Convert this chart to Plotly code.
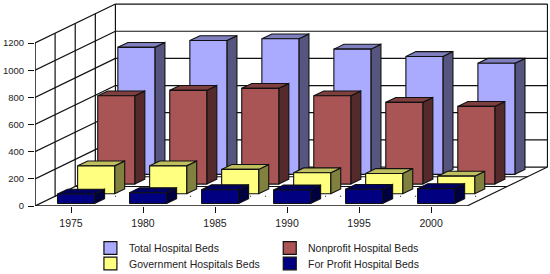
import plotly.graph_objects as go

# values
years = ['1975', '1980', '1985', '1990', '1995', '2000']
total_beds = [935, 985, 998, 922, 868, 818]
nonprofit_beds = [650, 690, 705, 650, 602, 572]
government_beds = [206, 206, 180, 155, 150, 130]
forprofit_beds = [70, 80, 102, 100, 105, 110]
y_ticks = [0, 200, 400, 600, 800, 1000, 1200]

# back row first, so the front rows paint over it
# name, values, row (0 = front), front / top / side colours
series = [
    ('Total Hospital Beds', total_beds, 3, '#AAAAFF', '#7F7FBF', '#55557F'),
    ('Nonprofit Hospital Beds', nonprofit_beds, 2, '#AA5555', '#7F3F3F', '#552A2A'),
    ('Government Hospitals Beds', government_beds, 1, '#FFFF80', '#BFBF60', '#80803F'),
    ('For Profit Hospital Beds', forprofit_beds, 0, '#000080', '#000060', '#000040'),
]

# oblique projection: how far the full floor depth shifts things, in axis units
DEPTH_X = 1.117
DEPTH_Y = 287
ROWS = 4
HALF_BAR = 0.257
LINE = '#111111'


def project(i, value, depth):
    return i + DEPTH_X * depth, value + DEPTH_Y * depth


def poly(points):
    xs, ys = [], []
    for i, v, d in points:
        x, y = project(i, v, d)
        xs.append(x)
        ys.append(y)
    xs.append(xs[0])
    ys.append(ys[0])
    return xs + [None], ys + [None]


def add_lines(fig, segments, width=1.2, dash='solid'):
    xs, ys = [], []
    for a, b in segments:
        x0, y0 = project(*a)
        x1, y1 = project(*b)
        xs += [x0, x1, None]
        ys += [y0, y1, None]
    fig.add_trace(go.Scatter(x=xs, y=ys, mode='lines', showlegend=False, hoverinfo='skip',
                             cliponaxis=False, line=dict(color=LINE, width=width, dash=dash)))


def add_faces(fig, faces, color):
    xs, ys = [], []
    for f in faces:
        px, py = poly(f)
        xs += px
        ys += py
    fig.add_trace(go.Scatter(x=xs, y=ys, mode='lines', fill='toself', fillcolor=color,
                             showlegend=False, hoverinfo='skip', cliponaxis=False,
                             line=dict(color=LINE, width=1.1)))


fig = go.Figure()

left, right = -0.5, len(years) - 0.5
top = max(y_ticks)

# walls and floor grid
grid = []
for t in y_ticks:
    grid.append(((left, t, 0), (left, t, 1)))
    grid.append(((left, t, 1), (right, t, 1)))
for d in [0.25, 0.5, 0.75]:
    grid.append(((left, 0, d), (left, top, d)))
for d in [0.5, 0.75]:
    grid.append(((left, 0, d), (right, 0, d)))
grid.append(((left, 0, 1), (left, top, 1)))
grid.append(((right, 0, 1), (right, top, 1)))
grid.append(((right, 0, 0), (right, 0, 1)))
add_lines(fig, grid)
add_lines(fig, [((left, 0, 0.25), (right, 0, 0.25))], width=1, dash='1px,14px')

# bars
for name, values, row, c_front, c_top, c_side in series:
    d0 = (row + 0.25) / ROWS
    d1 = (row + 0.75) / ROWS
    fronts, tops, sides = [], [], []
    for i, v in enumerate(values):
        a, b = i - HALF_BAR, i + HALF_BAR
        fronts.append([(a, 0, d0), (b, 0, d0), (b, v, d0), (a, v, d0)])
        tops.append([(a, v, d0), (b, v, d0), (b, v, d1), (a, v, d1)])
        sides.append([(b, 0, d0), (b, 0, d1), (b, v, d1), (b, v, d0)])
    add_faces(fig, sides, c_side)
    add_faces(fig, tops, c_top)
    add_faces(fig, fronts, c_front)

# axis lines stop at the chart box, so they are drawn as traces
add_lines(fig, [((left, 0, 0), (left, top, 0)), ((left, 0, 0), (right, 0, 0))], width=1.5)

W, H = 550, 274
M_L, M_R, M_T, M_B = 34.5, 2, 3, 68
plot_w = W - M_L - M_R
plot_h = H - M_T - M_B


def paper_x(px):
    return (px - M_L) / plot_w


def paper_y(py):
    return (H - M_B - py) / plot_h


# legend, in the same order as the reference
legend = [
    ('Total Hospital Beds', '#AAAAFF', 103.5, 248),
    ('Nonprofit Hospital Beds', '#AA5555', 283, 248),
    ('Government Hospitals Beds', '#FFFF80', 103.5, 263.5),
    ('For Profit Hospital Beds', '#000080', 283, 263.5),
]
for label, color, px, py in legend:
    fig.add_shape(type='rect', xref='paper', yref='paper',
                  x0=paper_x(px), x1=paper_x(px + 13),
                  y0=paper_y(py - 6.3), y1=paper_y(py + 6.3),
                  fillcolor=color, line=dict(color=LINE, width=1.2))
    fig.add_annotation(text=label, xref='paper', yref='paper', showarrow=False,
                       x=paper_x(px + 23), y=paper_y(py), xanchor='left', yanchor='middle',
                       font=dict(family='Liberation Sans', size=10.5, color='#222222'))

fig.update_layout(
    width=W, height=H, margin=dict(l=M_L, r=M_R, t=M_T, b=M_B, autoexpand=False),
    paper_bgcolor='white', plot_bgcolor='white', showlegend=False,
    font=dict(family='Liberation Sans', size=10, color='#222222'),
    xaxis=dict(range=[left, left + plot_w / 72.08], tickmode='array',
               tickvals=list(range(len(years))), ticktext=years,
               showgrid=False, zeroline=False, showline=False,
               ticks='outside', ticklen=6, tickwidth=1.2, tickcolor=LINE,
               tickfont=dict(size=10.5), ticklabelstandoff=1),
    yaxis=dict(range=[0, plot_h / 0.1358], tickmode='array', tickvals=y_ticks,
               showgrid=False, zeroline=False, showline=False,
               ticks='outside', ticklen=6, tickwidth=1.2, tickcolor=LINE,
               tickfont=dict(size=9.5), ticklabelstandoff=2),
)

# the page's default body margin would push the chart 8px off
fig.write_html("out.html", config=dict(displayModeBar=False),
               post_script="document.body.style.margin='0';document.body.style.overflow='hidden';")
